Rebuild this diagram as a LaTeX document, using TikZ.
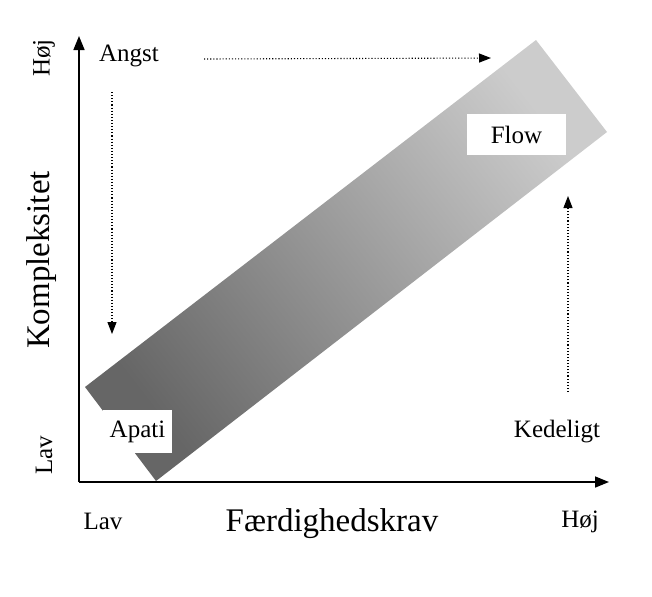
\documentclass[tikz,border=0pt]{standalone}
\usepackage{fontspec}
\setmainfont{Liberation Serif}
\usetikzlibrary{arrows.meta}
\begin{document}
\begin{tikzpicture}[x=0.5pt, y=-0.5pt, font=\fontsize{12.5}{15}\selectfont,
axis/.style={thick, -{Triangle[length=7pt,width=5.5pt]}},
move/.style={densely dotted, line width=0.55pt, -{Triangle[length=6pt,width=4.5pt]}},
zone/.style={fill=white, inner sep=0pt},
big/.style={font=\fontsize{16.5}{19}\selectfont}]
\useasboundingbox (0,0) rectangle (652,596);
% flow band
\shade[top color=black!60, bottom color=black!20, shading angle=127.7]
  (85,387) -- (156,481) -- (607,132) -- (536,40) -- cycle;
% axes
\coordinate (origin) at (79,482);
\coordinate (ytop) at (79,36);
\coordinate (xend) at (609,482);
\draw[axis] (origin) -- (ytop);
\draw[axis] (origin) -- (xend);
% zones
\node[zone, minimum width=34.5pt, minimum height=21.5pt] (apati) at (137.5,431.5) {Apati};
\node[zone, minimum width=49.5pt, minimum height=20.5pt] (flow) at (516.5,134.5) {Flow};
\node (angst) at (129,56) {Angst};
\node (kedeligt) at (557,432) {Kedeligt};
% moves
\coordinate (a1) at (204,59);
\coordinate (a2) at (491,58);
\coordinate (a3) at (112,92);
\coordinate (a4) at (112,334);
\coordinate (k1) at (568,392);
\coordinate (k2) at (568,196);
\draw[move] (a1) -- (a2);
\draw[move] (a3) -- (a4);
\draw[move] (k1) -- (k2);
% axis labels
\node[rotate=90] (yhigh) at (44,58) {Høj};
\node[rotate=90] (ylow) at (44,455) {Lav};
\node[rotate=90, big] (ylabel) at (42,260) {Kompleksitet};
\node (xlow) at (103,521) {Lav};
\node (xhigh) at (580,522) {Høj};
\node[big] (xlabel) at (332,524) {Færdighedskrav};
\end{tikzpicture}
\end{document}
